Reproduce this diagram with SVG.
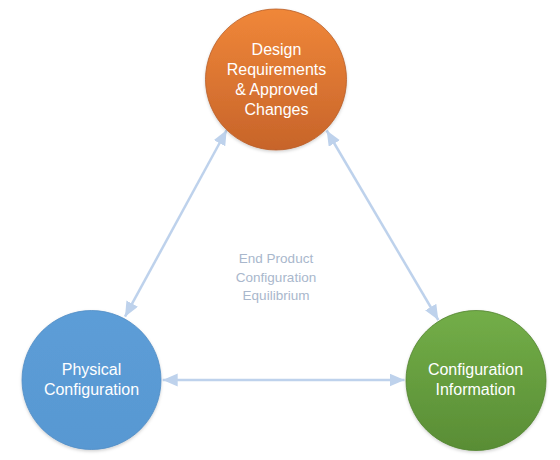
<svg xmlns="http://www.w3.org/2000/svg" width="560" height="460" viewBox="0 0 560 460">
<style>
.lbl{font-family:"Liberation Sans",Arial,sans-serif;font-size:16px;fill:#ffffff;text-anchor:middle}
.mid{font-family:"Liberation Sans",Arial,sans-serif;font-size:13.5px;fill:#a9b7cc;text-anchor:middle}
.conn{stroke:#bed2ec;stroke-width:2.5;fill:none;marker-start:url(#ah);marker-end:url(#ah)}
</style>
<defs>
<linearGradient id="gOrange" x1="0" y1="0" x2="0" y2="1">
<stop offset="0" stop-color="#f08739"/>
<stop offset="1" stop-color="#c7642a"/>
</linearGradient>
<linearGradient id="gGreen" x1="0" y1="0" x2="0" y2="1">
<stop offset="0" stop-color="#73ae48"/>
<stop offset="1" stop-color="#598d35"/>
</linearGradient>
<linearGradient id="gBlue" x1="0" y1="0" x2="0" y2="1">
<stop offset="0" stop-color="#5c9dd7"/>
<stop offset="1" stop-color="#5898d2"/>
</linearGradient>
<filter id="sh" x="-20%" y="-20%" width="140%" height="140%">
<feDropShadow dx="0" dy="1.5" stdDeviation="1.5" flood-color="#000000" flood-opacity="0.18"/>
</filter>
<marker id="ah" markerUnits="userSpaceOnUse" markerWidth="16" markerHeight="14" refX="15" refY="6.5" orient="auto-start-reverse">
<path d="M0,0 L15,6.5 L0,13 z" fill="#bed2ec"/>
</marker>
</defs>
<g id="connectors">
<line class="conn" x1="226.7" y1="130" x2="125" y2="316.7"/>
<line class="conn" x1="326.7" y1="130.5" x2="438.3" y2="320"/>
<line class="conn" x1="162.7" y1="380" x2="404.5" y2="380"/>
</g>
<g id="node-design">
<circle cx="276" cy="79.5" r="70.5" fill="url(#gOrange)" stroke="#b85e28" stroke-width="0.8" filter="url(#sh)"/>
<text class="lbl" x="276.5" y="55">Design</text>
<text class="lbl" x="276.5" y="74.5">Requirements</text>
<text class="lbl" x="276.5" y="94.5">&amp; Approved</text>
<text class="lbl" x="276.5" y="114.5">Changes</text>
</g>
<g id="node-physical">
<circle cx="91.5" cy="380" r="69.5" fill="url(#gBlue)" stroke="#4f8cc4" stroke-width="0.8" filter="url(#sh)"/>
<text class="lbl" x="91.5" y="375">Physical</text>
<text class="lbl" x="91.5" y="395">Configuration</text>
</g>
<g id="node-info">
<circle cx="476" cy="380.5" r="70" fill="url(#gGreen)" stroke="#52832f" stroke-width="0.8" filter="url(#sh)"/>
<text class="lbl" x="475.5" y="375">Configuration</text>
<text class="lbl" x="475.5" y="395">Information</text>
</g>
<g id="center-label">
<text class="mid" x="276" y="263">End Product</text>
<text class="mid" x="276" y="281.5">Configuration</text>
<text class="mid" x="276" y="300">Equilibrium</text>
</g>
</svg>
